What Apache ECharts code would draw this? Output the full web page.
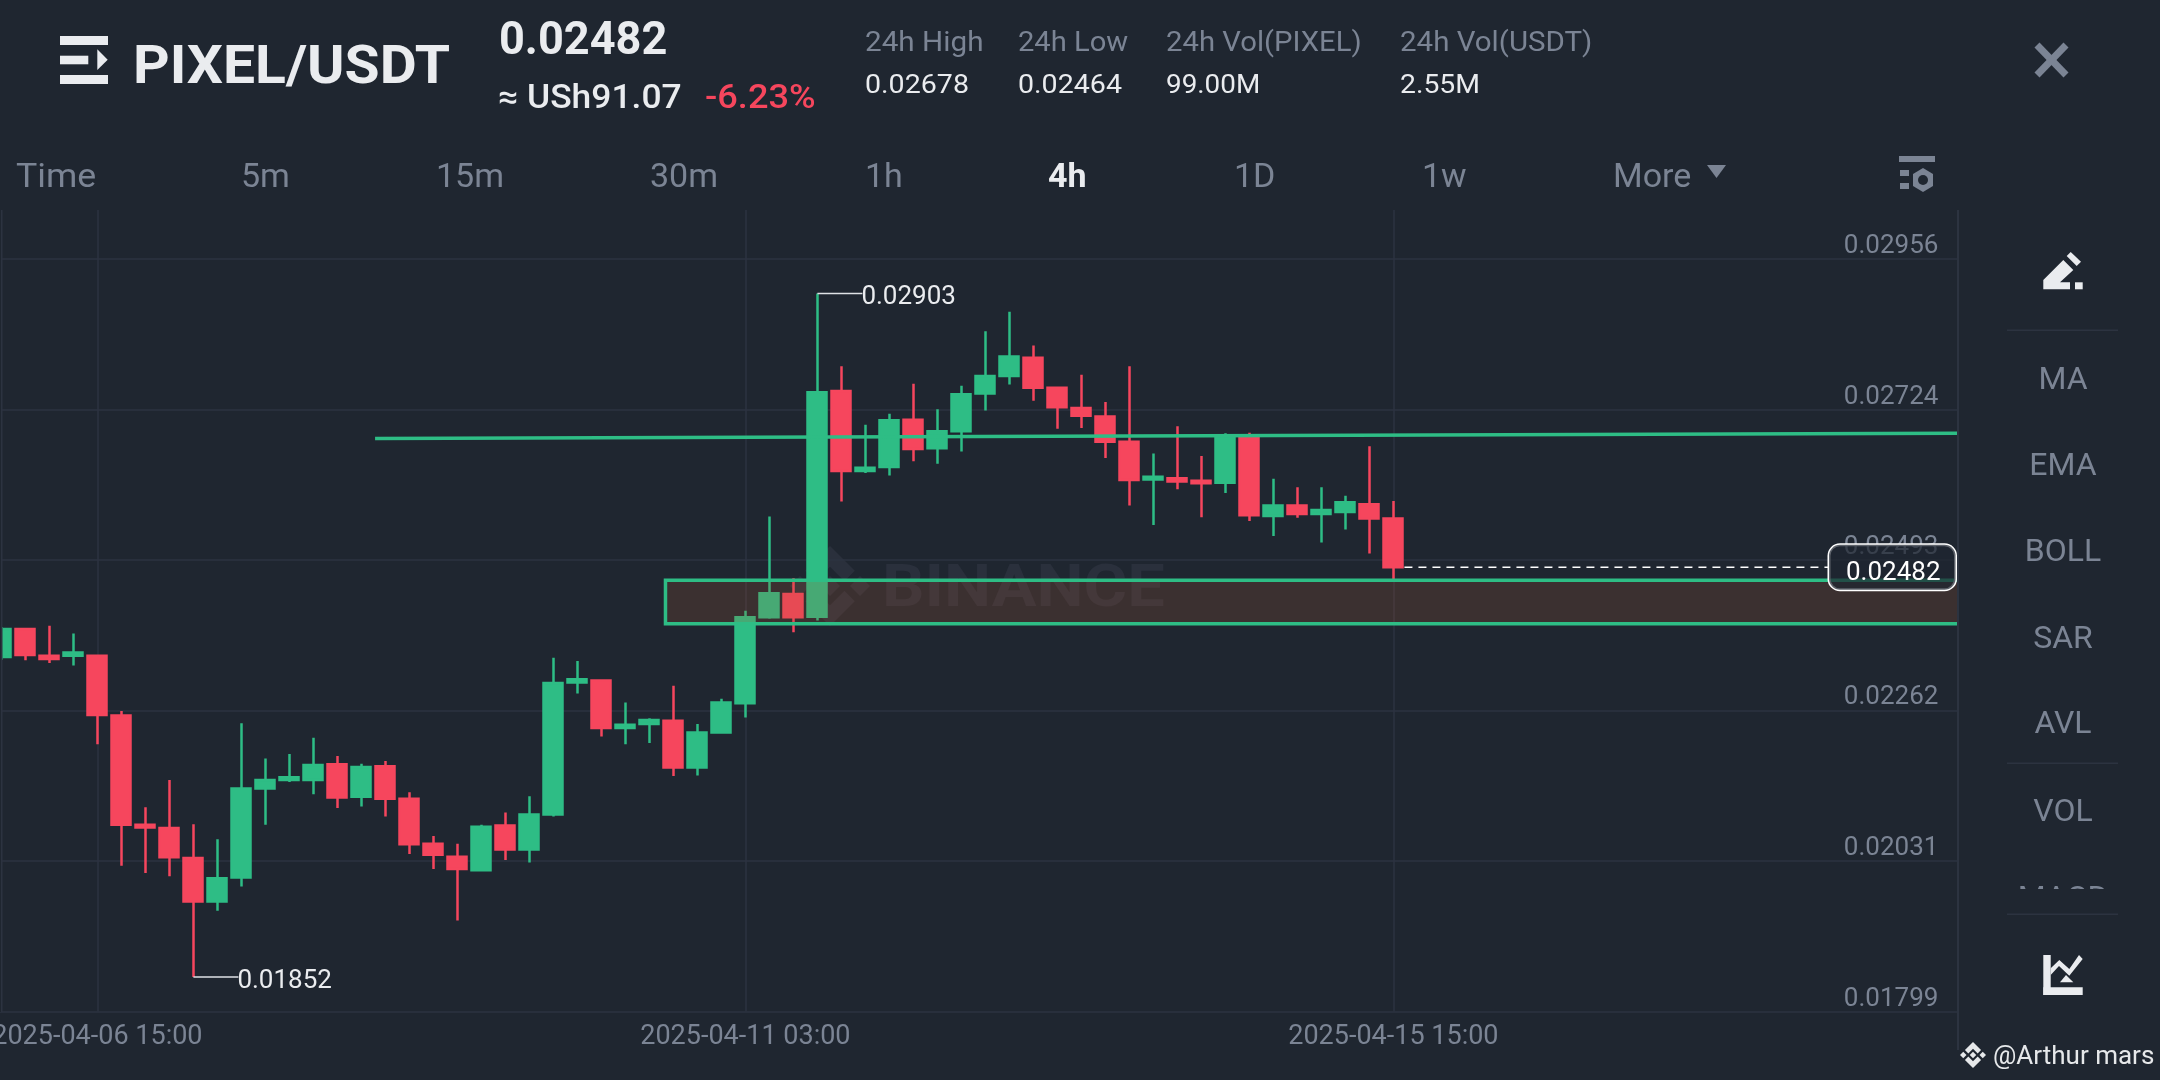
<!DOCTYPE html>
<html><head><meta charset="utf-8">
<style>html,body{margin:0;padding:0;background:#1f2630}#c{width:2160px;height:1080px}</style>
<script src="https://cdn.jsdelivr.net/npm/echarts@6/dist/echarts.min.js"></script>
</head><body><div id="c"></div>
<script>
const opens  = [0.02344,0.02387,0.02346,0.02346,0.02346,0.02254,0.02086,0.02081,0.02035,0.01968,0.02005,0.02142,0.02155,0.02155,0.02179,0.02129,0.02176,0.02126,0.02057,0.02037,0.02016,0.02085,0.02048,0.02102,0.02305,0.02308,0.02235,0.02241,0.02246,0.02174,0.02228,0.02273,0.02405,0.02441,0.02406,0.02753,0.02630,0.02636,0.02709,0.02665,0.02691,0.02749,0.02776,0.02804,0.02758,0.02727,0.02714,0.02675,0.02617,0.02619,0.02615,0.02612,0.02683,0.02561,0.02577,0.02564,0.02567,0.02579,0.02557];
const closes = [0.02387,0.02347,0.02341,0.02351,0.02255,0.02086,0.02082,0.02036,0.01968,0.02004,0.02142,0.02155,0.02159,0.02178,0.02128,0.02175,0.02126,0.02056,0.02040,0.02018,0.02083,0.02048,0.02102,0.02304,0.02310,0.02235,0.02240,0.02247,0.02174,0.02228,0.02274,0.02405,0.02442,0.02405,0.02751,0.02630,0.02635,0.02708,0.02664,0.02691,0.02748,0.02776,0.02806,0.02758,0.02728,0.02715,0.02675,0.02616,0.02621,0.02614,0.02611,0.02684,0.02562,0.02577,0.02564,0.02570,0.02582,0.02557,0.02482];
const lows   = [0.02340,0.02339,0.02335,0.02331,0.02210,0.02023,0.02012,0.02007,0.01852,0.01954,0.01991,0.02086,0.02152,0.02133,0.02112,0.02114,0.02099,0.02041,0.02018,0.01939,0.02016,0.02032,0.02028,0.02099,0.02288,0.02222,0.02210,0.02212,0.02161,0.02162,0.02227,0.02251,0.02403,0.02382,0.02400,0.02583,0.02627,0.02623,0.02645,0.02641,0.02660,0.02723,0.02763,0.02738,0.02695,0.02696,0.02650,0.02577,0.02547,0.02602,0.02559,0.02596,0.02553,0.02530,0.02558,0.02520,0.02540,0.02503,0.02462];
const highs  = [0.02390,0.02387,0.02392,0.02380,0.02346,0.02261,0.02113,0.02155,0.02087,0.02064,0.02242,0.02188,0.02195,0.02220,0.02192,0.02180,0.02184,0.02136,0.02069,0.02057,0.02086,0.02105,0.02130,0.02343,0.02338,0.02308,0.02274,0.02250,0.02300,0.02241,0.02280,0.02415,0.02560,0.02465,0.02903,0.02791,0.02701,0.02718,0.02764,0.02725,0.02761,0.02845,0.02875,0.02823,0.02758,0.02778,0.02736,0.02791,0.02657,0.02699,0.02653,0.02688,0.02689,0.02618,0.02605,0.02605,0.02592,0.02668,0.02584];
const priceTicks = [0.01799,0.02031,0.02262,0.02493,0.02724,0.02956];
const timeTickIndex = [4,31,58];
const timeTickLabels = {4:"2025-04-06 15:00",31:"2025-04-11 03:00",58:"2025-04-15 15:00"};
const lastPrice = 0.02482, highPrice = 0.02903, lowPrice = 0.01852;
const highIndex = 34, lowIndex = 8, slotCount = 82;
const supportZone = [[27.67, 83, 0.02462, 0.02395]];
const trendLine = [[15.57, 0.02680],[81.5, 0.02688]];

const BG='#1f2630', G='#2ebd85', R='#f6465d', W='#eaecef', GY='#7b8494', LINE='#2c3340';
const FF='Roboto, sans-serif';
const cats = Array.from({length:slotCount},(_,i)=>String(i));
const candles = opens.map((o,i)=>[o,closes[i],lows[i],highs[i]]);

function txt(text,x,y,size,fill,weight,align,sx,z){
  return {type:'text',z:z||50,x,y:y+size*0.1,scaleX:sx||1,style:{text,x:0,y:0,fill,font:(weight||400)+' '+size+'px '+FF,textAlign:align||'left',textVerticalAlign:'middle'}};
}
function poly(pts,fill,z){return {type:'polygon',z:z||50,shape:{points:pts},style:{fill}};}
function rect(x,y,w,h,fill,z,r){return {type:'rect',z:z||50,shape:{x,y,width:w,height:h,r:r||0},style:{fill}};}
function logo(cx,cy,s,fill,z){
  const map=a=>a.map(p=>[cx+p[0]*s,cy+p[1]*s]);
  return [
    [[0,-.25],[.25,0],[0,.25],[-.25,0]],
    [[-1,0],[-.75,-.25],[-.5,0],[-.75,.25]],
    [[1,0],[.75,-.25],[.5,0],[.75,.25]],
    [[0,-1],[.62,-.38],[.36,-.12],[0,-.48],[-.36,-.12],[-.62,-.38]],
    [[0,1],[.62,.38],[.36,.12],[0,.48],[-.36,.12],[-.62,.38]]
  ].map(p=>poly(map(p),fill,z));
}
const chrome = [
  txt('BINANCE',882,585,59,'#2a303c',700,'left',1.13,-1),
  ...logo(830,586,40,'#2a303c',-1),
  rect(0,210,2,802,BG,40),
  rect(1,210,1.5,802,LINE,41),
  rect(1957,210,2,840,LINE,41),
  rect(60,36,48,9,W), rect(60,55.7,28.3,8.6,W), rect(60,75,48,9,W),
  poly([[97.3,49.3],[107.7,59.7],[97.3,70]],W),
  txt('PIXEL/USDT',133,64,53,W,700,'left',1.075),
  txt('0.02482',499,38,46,W,700,'left',0.98),
  txt('≈ USh91.07',498,96,33,W,500,'left',1.073),
  txt('-6.23%',705,96,33,R,500,'left',1.096),
  txt('24h High',865,41,28,GY,400,'left',1.06), txt('0.02678',865,84,26,W,400,'left',1.1),
  txt('24h Low',1018,41,28,GY,400,'left',1.04), txt('0.02464',1018,84,26,W,400,'left',1.1),
  txt('24h Vol(PIXEL)',1166,41,28,GY,400,'left',1.045), txt('99.00M',1166,84,26,W,400,'left',1.07),
  txt('24h Vol(USDT)',1400,41,28,GY,400,'left',1.053), txt('2.55M',1400,84,26,W,400,'left',1.09),
  {type:'line',z:50,shape:{x1:2037,y1:45,x2:2066,y2:75},style:{stroke:GY,lineWidth:7}},
  {type:'line',z:50,shape:{x1:2066,y1:45,x2:2037,y2:75},style:{stroke:GY,lineWidth:7}},
  txt('Time',16,175,34,GY,400,'left',1.05), txt('5m',241,175,34,GY), txt('15m',436,175,34,GY), txt('30m',650,175,34,GY),
  txt('1h',865,175,34,GY), txt('4h',1048,175,34,W,700), txt('1D',1234,175,34,GY), txt('1w',1422,175,34,GY),
  txt('More',1613,175,34,GY),
  poly([[1707,165],[1726,165],[1716.5,178]],GY),
  rect(1899,156,36,6,GY), rect(1900,170,9,6,GY), rect(1900,183,9,6,GY),
  poly([[1923,168],[1933,174],[1933,186],[1923,192],[1913,186],[1913,174]],GY),
  {type:'circle',z:51,shape:{cx:1923,cy:180,r:5},style:{fill:BG}},
  poly([[2043.3,289.3],[2043.3,280],[2063.3,260],[2073.3,270],[2060,282.3],[2070,282.3],[2070,289.3]],W),
  poly([[2066.7,256],[2070.7,252],[2081,261.7],[2076.7,266]],W),
  rect(2075,282.3,7.7,7,W),
  rect(2007,329.5,111,1.5,LINE), rect(2007,762.5,111,1.5,LINE), rect(2007,913.5,111,1.5,LINE),
  txt('MA',2063,378,32,GY,400,'center'), txt('EMA',2063,464,32,GY,400,'center'),
  txt('BOLL',2063,550,32,GY,400,'center'), txt('SAR',2063,637,32,GY,400,'center'),
  txt('AVL',2063,722,32,GY,400,'center'), txt('VOL',2063,810,32,GY,400,'center'),
  txt('MACD',2063,897,32,GY,400,'center'),
  rect(2000,889,150,24,BG,51),
  rect(2043.3,955,7.4,40,W), rect(2043.3,987.3,39.4,7.7,W),
  poly([[2050.7,968.3],[2059.3,960],[2069.3,969],[2079,955],[2082.7,959],[2069.3,975.7],[2059,966],[2050.7,975]],W),
  poly([[2060,982.3],[2066,975],[2073.3,982.3]],W),
  ...logo(1973,1055,13,'#e6e8ea'),
  txt('@Arthur mars',1993,1055,26,'#e6e8ea',400)
];

const option = {
  backgroundColor: BG,
  animation:false,
  grid:{left:-10.6,top:210,width:24*slotCount,height:801.5,containLabel:false,outerBoundsMode:'none'},
  xAxis:[
    {type:'category',data:cats,show:false,boundaryGap:true},
    {type:'value',min:-0.5,max:slotCount-0.5,position:'bottom',
     axisLine:{show:false},
     axisTick:{show:false,customValues:timeTickIndex},
     splitLine:{show:true,lineStyle:{color:LINE,width:1.5}},
     axisLabel:{customValues:timeTickIndex,formatter:v=>timeTickLabels[v]||'',color:GY,fontFamily:FF,fontSize:27,margin:12,showMinLabel:true,showMaxLabel:true,hideOverlap:false}}
  ],
  yAxis:{type:'value',position:'right',min:0.01799,max:0.030313,scale:true,
     axisLine:{show:false},
     axisTick:{show:false,customValues:priceTicks},
     splitLine:{show:true,lineStyle:{color:LINE,width:1.5}},
     axisLabel:{inside:true,customValues:priceTicks,formatter:v=>v.toFixed(5),color:GY,fontFamily:FF,fontSize:26,margin:19,verticalAlign:'bottom',lineHeight:25,align:'right',showMinLabel:true}},
  series:[
    {type:'candlestick',name:'PIXEL/USDT',data:candles,xAxisIndex:0,yAxisIndex:0,barWidth:19.5,z:5,
     itemStyle:{color:G,color0:R,borderColor:G,borderColor0:R,borderWidth:2.5}},
    {type:'custom',name:'zone',xAxisIndex:1,yAxisIndex:0,z:7,data:supportZone,encode:{x:[0,1],y:[2,3]},clip:true,
     renderItem:(p,api)=>{
       const a=api.coord([api.value(0),api.value(2)]), b=api.coord([api.value(1),api.value(3)]);
       return {type:'rect',shape:{x:a[0],y:a[1],width:b[0]-a[0],height:b[1]-a[1]},
               clipPath:{type:'rect',shape:{x:a[0]-3,y:a[1]-3,width:1957-a[0]+3,height:b[1]-a[1]+6}},
               style:{fill:'rgba(176,88,48,0.2)',stroke:G,lineWidth:3.5}};
     }},
    {type:'line',name:'trend',xAxisIndex:1,yAxisIndex:0,z:8,data:trendLine,showSymbol:false,silent:true,lineStyle:{color:G,width:3.5}},
    {type:'line',name:'last',xAxisIndex:1,yAxisIndex:0,z:9,data:[[58.46,lastPrice],[76.15,lastPrice]],showSymbol:false,silent:true,
     lineStyle:{color:'#ffffff',width:1.5,type:[8,6]},
     endLabel:{show:true,formatter:()=>'{v|'+lastPrice.toFixed(5)+'}',distance:0,
       rich:{v:{color:'#ffffff',fontFamily:FF,fontSize:26,lineHeight:26,padding:[11,0,0,0]}},
       backgroundColor:'rgba(31,38,48,0.72)',borderColor:'#ffffff',borderWidth:1.5,borderRadius:11,padding:[10,15,9,17]}},
    {type:'line',name:'high',xAxisIndex:1,yAxisIndex:0,z:9,data:[[highIndex,highPrice],[highIndex+1.875,highPrice]],showSymbol:false,silent:true,
     lineStyle:{color:'#dfe2e6',width:1.5},
     endLabel:{show:true,formatter:()=>highPrice.toFixed(5),color:W,fontFamily:FF,fontSize:26,distance:0,offset:[-1,4]}},
    {type:'line',name:'low',xAxisIndex:1,yAxisIndex:0,z:9,data:[[lowIndex,lowPrice],[lowIndex+1.875,lowPrice]],showSymbol:false,silent:true,
     lineStyle:{color:'#dfe2e6',width:1.5},
     endLabel:{show:true,formatter:()=>lowPrice.toFixed(5),color:W,fontFamily:FF,fontSize:26,distance:0,offset:[-1,4]}}
  ],
  graphic:{elements:chrome}
};
const chart = echarts.init(document.getElementById('c'),null,{renderer:'canvas',width:2160,height:1080,devicePixelRatio:1});
chart.setOption(option);
</script></body></html>
